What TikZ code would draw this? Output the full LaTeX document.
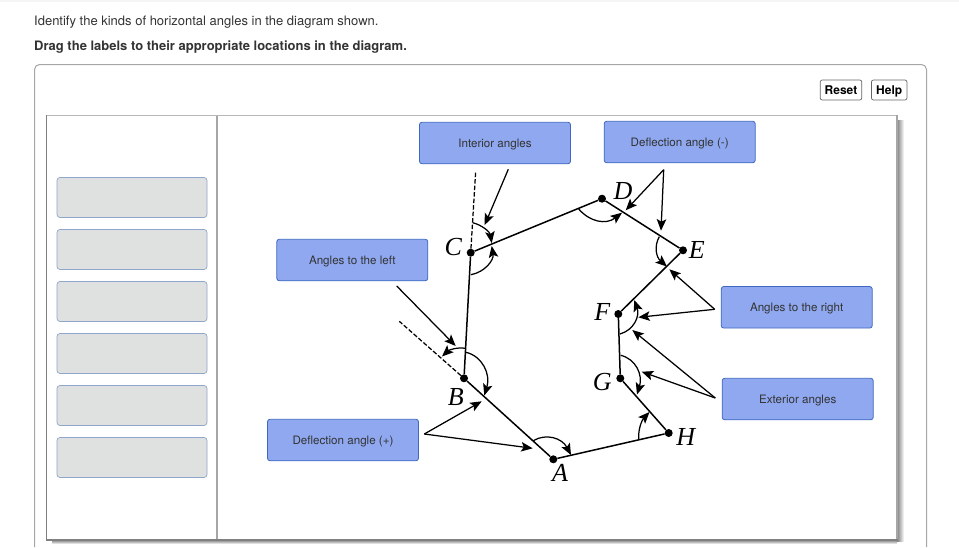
\documentclass[tikz,border=0pt]{standalone}
\usepackage{fontspec}
\setmainfont{TeX Gyre Heros}
\newfontfamily\lettersfont{Liberation Serif}[ItalicFont=* Italic]
\usepackage{tikz}
\usetikzlibrary{arrows.meta,positioning}
\definecolor{tagfill}{HTML}{8FA8EF}
\definecolor{tagedge}{HTML}{3F68C0}
\definecolor{slotfill}{HTML}{DFE0E0}
\definecolor{slotedge}{HTML}{8FA5CC}
\definecolor{bodytext}{HTML}{333333}
\tikzset{
  tagbox/.style={rectangle, rounded corners=2.5pt, minimum width=151pt, minimum height=41.5pt, inner sep=0pt, text height=10.4pt, text depth=2pt, text centered, draw=tagedge, line width=0.8pt, fill=tagfill, text=bodytext, font=\fontsize{11.6}{13}\selectfont},
  slotbox/.style={rectangle, rounded corners=3pt, minimum width=150pt, minimum height=40pt, inner sep=0pt, draw=slotedge, line width=0.7pt, fill=slotfill},
  buttonbox/.style={rectangle, rounded corners=2pt, minimum height=20pt, inner sep=0pt, text height=11pt, text depth=2.4pt, draw=black!60, line width=0.7pt, fill=white, font=\fontsize{12}{13}\bfseries\selectfont},
  vertex/.style={circle, fill=black, inner sep=0pt, minimum size=8pt},
  letter/.style={inner sep=0pt, font=\lettersfont\itshape\fontsize{26}{28}\selectfont},
  leg/.style={line width=1.5pt},
  arrow/.style={line width=1.25pt,->,>={Stealth[length=11.5pt,width=9.5pt,inset=2.5pt]}},
  sweep/.style={line width=1.25pt,->,>={Stealth[length=11.5pt,width=9.5pt,inset=2.5pt]}},
  extension/.style={line width=1.25pt, dash pattern=on 4.5pt off 2pt},
}
\begin{document}
\begin{tikzpicture}[x=1pt, y=-1pt]
	\useasboundingbox (0,0) rectangle (959,547);
	\fill[black!4] (0,0) rectangle (959,2);

	% Question text
	\node (question) [anchor=base west, inner sep=0pt, text=bodytext, font=\fontsize{13}{15}\selectfont] at (34,25) {Identify the kinds of horizontal angles in the diagram shown.};
	\node (instruction) [anchor=base west, inner sep=0pt, text=bodytext, font=\fontsize{13}{15}\bfseries\selectfont] at (34,50.5) {Drag the labels to their appropriate locations in the diagram.};

	% Outer frame
	\draw[black!35, line width=1pt, rounded corners=5pt] (34.5,547) -- (34.5,64.5) -- (926.5,64.5) -- (926.5,547);

	% Buttons
	\node (reset) [buttonbox, minimum width=41.5pt] at (841,90) {Reset};
	\node (help) [buttonbox, minimum width=35.5pt, right=9pt of reset] {Help};

	% Panel and its shadow
	\shade[left color=black!50, right color=white] (897,120) rectangle (904,541);
	\shade[top color=black!50, bottom color=white] (52,540) rectangle (897,544);
	\fill[white] (46.5,115.5) rectangle (897,540);
	\draw[black!28, line width=1pt] (46.5,115.5) -- (897,115.5);
	\draw[black!50, line width=1.2pt] (46.5,115) -- (46.5,540.5);
	\draw[black!35, line width=2pt] (217,115.5) -- (217,540);
	\draw[black!35, line width=1.2pt] (897,115) -- (897,540);
	\draw[black!50, line width=1.6pt] (46,540) -- (897.6,540);

	% Empty slots
	\node (slot1) [slotbox] at (132,197.5) {};
	\node (slot2) [slotbox, below=11.3pt of slot1] {};
	\node (slot3) [slotbox, below=11.3pt of slot2] {};
	\node (slot4) [slotbox, below=11.3pt of slot3] {};
	\node (slot5) [slotbox, below=11.3pt of slot4] {};
	\node (slot6) [slotbox, below=11.3pt of slot5] {};

	% Labels
	\node (interior) [tagbox] at (495,143) {Interior angles};
	\node (deflminus) [tagbox] at (679.7,142) {Deflection angle (-)};
	\node (toleft) [tagbox] at (352.3,260) {Angles to the left};
	\node (toright) [tagbox] at (796.7,307.3) {Angles to the right};
	\node (exterior) [tagbox] at (797.7,399) {Exterior angles};
	\node (deflplus) [tagbox] at (343,440) {Deflection angle (+)};

	% Traverse stations
	\node (A) [vertex] at (553.3,459.3) {};
	\node (B) [vertex] at (464,378.3) {};
	\node (C) [vertex] at (470.7,252.7) {};
	\node (D) [vertex] at (602,198.7) {};
	\node (E) [vertex] at (683,250.3) {};
	\node (F) [vertex] at (618.3,314) {};
	\node (G) [vertex] at (620.3,378.3) {};
	\node (H) [vertex] at (668.7,433) {};

	\node (letterA) [letter] at (560,472.7) {A};
	\node (letterB) [letter] at (455.7,396.7) {B};
	\node (letterC) [letter] at (453.3,246.7) {C};
	\node (letterD) [letter] at (623,190.7) {D};
	\node (letterE) [letter] at (696.7,250) {E};
	\node (letterF) [letter] at (602.3,312.3) {F};
	\node (letterG) [letter] at (602.3,382.3) {G};
	\node (letterH) [letter] at (685.7,436.7) {H};

	% Traverse legs
	\draw [leg] (A) -- (B);
	\draw [leg] (B) -- (C);
	\draw [leg] (C) -- (D);
	\draw [leg] (D) -- (E);
	\draw [leg] (E) -- (F);
	\draw [leg] (F) -- (G);
	\draw [leg] (G) -- (H);
	\draw [leg] (H) -- (A);

	% Prolonged legs
	\coordinate (dashC) at (475.7,171);
	\coordinate (dashB) at (399.3,321.3);
	\draw [extension] (C) -- (dashC);
	\draw [extension] (B) -- (dashB);

	% Angle arcs
	\draw [sweep] (472.7,222.7) .. controls (482,225) and (490,232) .. (491.7,243);
	\draw [sweep] (471,274.7) .. controls (485,272) and (494,260) .. (491.7,246);
	\draw [sweep] (578.7,209) .. controls (590,222) and (606,225) .. (622,212.7);
	\draw [sweep] (659.3,236.7) .. controls (654,246) and (656,257) .. (667,266.5);
	\draw [sweep] (620,334) .. controls (634,330) and (640,316) .. (634.3,300);
	\draw [sweep] (620.7,355.3) .. controls (636,359) and (643,375) .. (637,394.5);
	\draw [sweep] (638.7,439.3) .. controls (638,429) and (642,420) .. (649.5,412);
	\draw [sweep] (533.3,440.7) .. controls (546,433) and (562,438) .. (571,455);
	\draw [sweep] (466,352.3) .. controls (482,356) and (491,374) .. (484.3,395.5);
	\draw [sweep] (465.3,348.3) .. controls (457,347) and (449,350) .. (442,356.5);

	% Pointers from the labels
	\coordinate (fromInterior) at (508.3,169.3);
	\coordinate (toInterior) at (484.7,225);
	\coordinate (fromDeflMinus) at (663.7,169.7);
	\coordinate (toDeflD) at (625.7,210.3);
	\coordinate (toDeflE) at (661,230.7);
	\coordinate (fromRight) at (714.7,309.3);
	\coordinate (toRightE) at (669.3,269.3);
	\coordinate (toRightF) at (638.3,317.3);
	\coordinate (fromExterior) at (715.3,398);
	\coordinate (toExtF) at (632.3,330);
	\coordinate (toExtG) at (641.7,371.7);
	\coordinate (fromLeft) at (396.7,286);
	\coordinate (toLeftB) at (455.7,346);
	\coordinate (fromDeflPlus) at (424.3,434);
	\coordinate (toPlusB) at (481.7,401.3);
	\coordinate (toPlusA) at (532.7,448.3);

	\draw [arrow] (fromInterior) -- (toInterior);
	\draw [arrow] (fromDeflMinus) -- (toDeflD);
	\draw [arrow] (fromDeflMinus) -- (toDeflE);
	\draw [arrow] (fromRight) -- (toRightE);
	\draw [arrow] (fromRight) -- (toRightF);
	\draw [arrow] (fromExterior) -- (toExtF);
	\draw [arrow] (fromExterior) -- (toExtG);
	\draw [arrow] (fromLeft) -- (toLeftB);
	\draw [arrow] (fromDeflPlus) -- (toPlusB);
	\draw [arrow] (fromDeflPlus) -- (toPlusA);
\end{tikzpicture}
\end{document}
